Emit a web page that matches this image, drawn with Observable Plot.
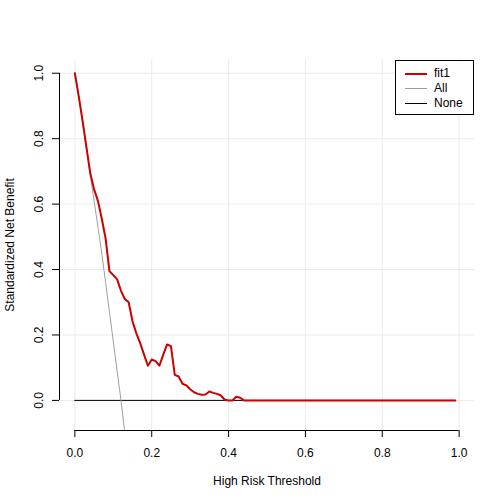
<!DOCTYPE html>
<html>
<head>
<meta charset="utf-8">
<script src="https://cdn.jsdelivr.net/npm/d3@7"></script>
<script src="https://cdn.jsdelivr.net/npm/@observablehq/plot@0.6"></script>
<style>
  body { margin: 0; background: #fff; }
  #chart { position: relative; width: 504px; height: 504px; font-family: "Liberation Sans", Arial, sans-serif; }
  #legend { position: absolute; left: 395px; top: 60px; width: 79px; height: 55px; box-sizing: border-box;
            border: 1px solid #000; background: #fff; font-size: 12px; padding-top: 5px; }
  #legend .row { height: 15px; line-height: 15px; display: flex; align-items: center; }
  #legend .swatch { display: inline-block; width: 22px; margin-left: 9px; margin-right: 7px; }
</style>
</head>
<body>
<div id="chart"></div>
<script>
// decision curve
const thresholds = [
  0.00, 0.01, 0.02, 0.03, 0.04, 0.05, 0.06, 0.07, 0.08, 0.09,
  0.10, 0.11, 0.12, 0.13, 0.14, 0.15, 0.16, 0.17, 0.18, 0.19,
  0.20, 0.21, 0.22, 0.23, 0.24, 0.25, 0.26, 0.27, 0.28, 0.29,
  0.30, 0.31, 0.32, 0.33, 0.34, 0.35, 0.36, 0.37, 0.38, 0.39,
  0.40, 0.41, 0.42, 0.43, 0.44, 0.45, 0.46, 0.47, 0.48, 0.49,
  0.50, 0.51, 0.52, 0.53, 0.54, 0.55, 0.56, 0.57, 0.58, 0.59,
  0.60, 0.61, 0.62, 0.63, 0.64, 0.65, 0.66, 0.67, 0.68, 0.69,
  0.70, 0.71, 0.72, 0.73, 0.74, 0.75, 0.76, 0.77, 0.78, 0.79,
  0.80, 0.81, 0.82, 0.83, 0.84, 0.85, 0.86, 0.87, 0.88, 0.89,
  0.90, 0.91, 0.92, 0.93, 0.94, 0.95, 0.96, 0.97, 0.98, 0.99
];
const fit1 = [
  1.000, 0.930, 0.855, 0.775, 0.695, 0.645, 0.610, 0.555, 0.495, 0.395,
  0.383, 0.370, 0.335, 0.310, 0.300, 0.242, 0.205, 0.175, 0.140, 0.106,
  0.125, 0.120, 0.106, 0.140, 0.171, 0.166, 0.078, 0.073, 0.051, 0.046,
  0.034, 0.025, 0.020, 0.017, 0.018, 0.027, 0.023, 0.020, 0.015, 0.002,
  0.000, 0.000, 0.011, 0.008, 0.000, 0.000, 0.000, 0.000, 0.000, 0.000,
  0.000, 0.000, 0.000, 0.000, 0.000, 0.000, 0.000, 0.000, 0.000, 0.000,
  0.000, 0.000, 0.000, 0.000, 0.000, 0.000, 0.000, 0.000, 0.000, 0.000,
  0.000, 0.000, 0.000, 0.000, 0.000, 0.000, 0.000, 0.000, 0.000, 0.000,
  0.000, 0.000, 0.000, 0.000, 0.000, 0.000, 0.000, 0.000, 0.000, 0.000,
  0.000, 0.000, 0.000, 0.000, 0.000, 0.000, 0.000, 0.000, 0.000, 0.000
];
// "All" only matters until it leaves the bottom of the plot
const allThresholds = [0.00, 0.01, 0.02, 0.03, 0.04, 0.05, 0.06, 0.07, 0.08, 0.09, 0.10, 0.11, 0.12, 0.13, 0.14];
const allValues = [1.00, 0.93, 0.85, 0.77, 0.69, 0.61, 0.53, 0.45, 0.36, 0.27, 0.18, 0.09, 0.00, -0.10, -0.19];
const noneLevel = [0];

const xTicks = [0, 0.2, 0.4, 0.6, 0.8, 1.0];
const yTicks = [0, 0.2, 0.4, 0.6, 0.8, 1.0];
const seriesNames = ["fit1", "All", "None"];

const colors = { fit1: "#cd0000", All: "#a0a0a0", None: "#000000" };
const widths = { fit1: 2, All: 1, None: 1 };

function main() {
  const fmt = d3.format(".1f");
  // R's 4% padding around xlim c(0,1), ylim c(-0.05,1)
  const xDomain = [-0.04, 1.04];
  const yDomain = [-0.092, 1.042];

  const fitData = thresholds.map((t, i) => ({ t, v: fit1[i] }));
  const allData = allThresholds.map((t, i) => ({ t, v: allValues[i] }));

  const plt = Plot.plot({
    width: 504,
    height: 504,
    marginLeft: 59,
    marginRight: 30,
    marginTop: 59,
    marginBottom: 74,
    style: {
      fontFamily: '"Liberation Sans", Arial, sans-serif',
      fontSize: "12px",
      background: "white",
      color: "black",
    },
    x: { domain: xDomain },
    y: { domain: yDomain },
    marks: [
      Plot.ruleX(xTicks, { stroke: "#ebebeb" }),
      Plot.ruleY(yTicks, { stroke: "#ebebeb" }),
      Plot.ruleY(noneLevel, {
        x1: thresholds[0],
        x2: thresholds[thresholds.length - 1],
        stroke: colors.None,
        strokeWidth: widths.None,
      }),
      Plot.line(allData, {
        x: "t",
        y: "v",
        stroke: colors.All,
        strokeWidth: widths.All,
        clip: true,
      }),
      Plot.line(fitData, {
        x: "t",
        y: "v",
        stroke: colors.fit1,
        strokeWidth: widths.fit1,
        clip: true,
      }),
      // R style axes: line only across the tick range
      Plot.ruleY([yDomain[0]], { x1: xTicks[0], x2: xTicks[xTicks.length - 1], stroke: "black" }),
      Plot.ruleX([xDomain[0]], { y1: yTicks[0], y2: yTicks[yTicks.length - 1], stroke: "black" }),
      Plot.axisX({
        ticks: xTicks,
        tickSize: 7,
        tickPadding: 11,
        tickFormat: fmt,
        label: null,
      }),
      Plot.axisY({
        ticks: yTicks,
        tickSize: 7,
        tickPadding: 10,
        tickRotate: -90,
        tickFormat: fmt,
        label: null,
      }),
      Plot.text(["High Risk Threshold"], {
        frameAnchor: "bottom",
        textAnchor: "middle",
        lineAnchor: "middle",
        dy: 51,
      }),
      Plot.text(["Standardized Net Benefit"], {
        frameAnchor: "left",
        textAnchor: "middle",
        lineAnchor: "middle",
        dx: -49,
        rotate: -90,
      }),
    ],
  });

  const chart = document.querySelector("#chart");
  chart.append(plt);

  // legend box sits in the top right corner of the plot region
  const legend = document.createElement("div");
  legend.id = "legend";
  for (const name of seriesNames) {
    const row = document.createElement("div");
    row.className = "row";
    const sw = document.createElement("span");
    sw.className = "swatch";
    sw.style.borderTop = `${widths[name]}px solid ${colors[name]}`;
    const label = document.createElement("span");
    label.textContent = name;
    row.append(sw, label);
    legend.append(row);
  }
  chart.append(legend);
}

main();
</script>
</body>
</html>
